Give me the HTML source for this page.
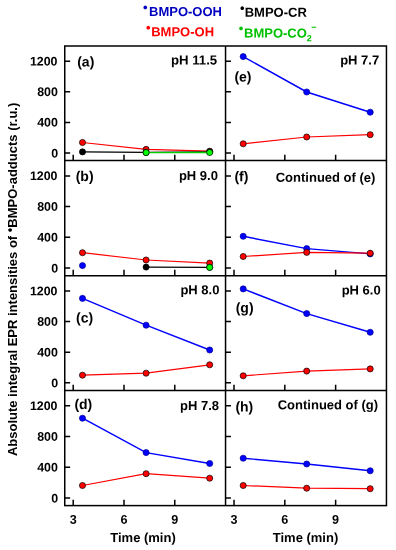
<!DOCTYPE html>
<html><head><meta charset="utf-8"><title>BMPO adducts</title>
<style>html,body{margin:0;padding:0;background:#fff}svg{display:block}svg{font-family:"Liberation Sans",Arial,sans-serif;font-weight:bold;font-size:12px;fill:#000}</style>
</head><body>
<svg width="396" height="550" viewBox="0 0 396 550">
<rect width="396" height="550" fill="#fff"/>
<g id="panel-a">
<polyline fill="none" stroke="#ff0000" stroke-width="1.2" points="82.50,142.50 146.10,149.40 209.70,151.20"/>
<circle cx="82.5" cy="142.5" r="3.05" fill="#ff0000" stroke="#000" stroke-width="0.7"/>
<circle cx="146.1" cy="149.4" r="3.05" fill="#ff0000" stroke="#000" stroke-width="0.7"/>
<circle cx="209.7" cy="151.2" r="3.05" fill="#ff0000" stroke="#000" stroke-width="0.7"/>
<polyline fill="none" stroke="#000000" stroke-width="1.3" points="82.50,151.90 146.10,152.40 209.70,151.80"/>
<circle cx="82.5" cy="151.9" r="3.05" fill="#000000" stroke="#000" stroke-width="0.7"/>
<circle cx="146.1" cy="152.4" r="3.05" fill="#000000" stroke="#000" stroke-width="0.7"/>
<circle cx="209.7" cy="151.8" r="3.05" fill="#000000" stroke="#000" stroke-width="0.7"/>
<polyline fill="none" stroke="#00cc00" stroke-width="1.45" points="146.10,152.60 209.70,152.50"/>
<circle cx="146.1" cy="152.6" r="3.05" fill="#00ff00" stroke="#000" stroke-width="0.7"/>
<circle cx="209.7" cy="152.5" r="3.05" fill="#00ff00" stroke="#000" stroke-width="0.7"/>
</g>
<g id="panel-b">
<polyline fill="none" stroke="#ff0000" stroke-width="1.2" points="82.50,252.70 146.10,260.00 209.70,263.10"/>
<circle cx="82.5" cy="252.7" r="3.05" fill="#ff0000" stroke="#000" stroke-width="0.7"/>
<circle cx="146.1" cy="260.0" r="3.05" fill="#ff0000" stroke="#000" stroke-width="0.7"/>
<circle cx="209.7" cy="263.1" r="3.05" fill="#ff0000" stroke="#000" stroke-width="0.7"/>
<circle cx="82.5" cy="265.6" r="3.05" fill="#0000ff" stroke="#000090" stroke-width="0.7"/>
<polyline fill="none" stroke="#000000" stroke-width="1.3" points="146.10,267.10 209.70,267.30"/>
<circle cx="146.1" cy="267.1" r="3.05" fill="#000000" stroke="#000" stroke-width="0.7"/>
<circle cx="209.7" cy="267.3" r="3.05" fill="#000000" stroke="#000" stroke-width="0.7"/>
<circle cx="209.7" cy="267.4" r="3.05" fill="#00ff00" stroke="#000" stroke-width="0.7"/>
</g>
<g id="panel-c">
<polyline fill="none" stroke="#0000ff" stroke-width="1.45" points="82.50,298.40 146.10,325.20 209.70,350.00"/>
<circle cx="82.5" cy="298.4" r="3.05" fill="#0000ff" stroke="#000090" stroke-width="0.7"/>
<circle cx="146.1" cy="325.2" r="3.05" fill="#0000ff" stroke="#000090" stroke-width="0.7"/>
<circle cx="209.7" cy="350.0" r="3.05" fill="#0000ff" stroke="#000090" stroke-width="0.7"/>
<polyline fill="none" stroke="#ff0000" stroke-width="1.2" points="82.50,375.20 146.10,373.20 209.70,364.80"/>
<circle cx="82.5" cy="375.2" r="3.05" fill="#ff0000" stroke="#000" stroke-width="0.7"/>
<circle cx="146.1" cy="373.2" r="3.05" fill="#ff0000" stroke="#000" stroke-width="0.7"/>
<circle cx="209.7" cy="364.8" r="3.05" fill="#ff0000" stroke="#000" stroke-width="0.7"/>
</g>
<g id="panel-d">
<polyline fill="none" stroke="#0000ff" stroke-width="1.45" points="82.50,418.20 146.10,452.60 209.70,463.50"/>
<circle cx="82.5" cy="418.2" r="3.05" fill="#0000ff" stroke="#000090" stroke-width="0.7"/>
<circle cx="146.1" cy="452.6" r="3.05" fill="#0000ff" stroke="#000090" stroke-width="0.7"/>
<circle cx="209.7" cy="463.5" r="3.05" fill="#0000ff" stroke="#000090" stroke-width="0.7"/>
<polyline fill="none" stroke="#ff0000" stroke-width="1.2" points="82.50,485.50 146.10,473.70 209.70,478.20"/>
<circle cx="82.5" cy="485.5" r="3.05" fill="#ff0000" stroke="#000" stroke-width="0.7"/>
<circle cx="146.1" cy="473.7" r="3.05" fill="#ff0000" stroke="#000" stroke-width="0.7"/>
<circle cx="209.7" cy="478.2" r="3.05" fill="#ff0000" stroke="#000" stroke-width="0.7"/>
</g>
<g id="panel-e">
<polyline fill="none" stroke="#0000ff" stroke-width="1.45" points="243.20,56.60 306.70,92.00 370.20,112.20"/>
<circle cx="243.2" cy="56.6" r="3.05" fill="#0000ff" stroke="#000090" stroke-width="0.7"/>
<circle cx="306.7" cy="92.0" r="3.05" fill="#0000ff" stroke="#000090" stroke-width="0.7"/>
<circle cx="370.2" cy="112.2" r="3.05" fill="#0000ff" stroke="#000090" stroke-width="0.7"/>
<polyline fill="none" stroke="#ff0000" stroke-width="1.2" points="243.20,143.80 306.70,137.00 370.20,134.70"/>
<circle cx="243.2" cy="143.8" r="3.05" fill="#ff0000" stroke="#000" stroke-width="0.7"/>
<circle cx="306.7" cy="137.0" r="3.05" fill="#ff0000" stroke="#000" stroke-width="0.7"/>
<circle cx="370.2" cy="134.7" r="3.05" fill="#ff0000" stroke="#000" stroke-width="0.7"/>
</g>
<g id="panel-f">
<polyline fill="none" stroke="#0000ff" stroke-width="1.45" points="243.20,236.30 306.70,248.60 370.20,253.90"/>
<circle cx="243.2" cy="236.3" r="3.05" fill="#0000ff" stroke="#000090" stroke-width="0.7"/>
<circle cx="306.7" cy="248.6" r="3.05" fill="#0000ff" stroke="#000090" stroke-width="0.7"/>
<circle cx="370.2" cy="253.9" r="3.05" fill="#0000ff" stroke="#000090" stroke-width="0.7"/>
<polyline fill="none" stroke="#ff0000" stroke-width="1.2" points="243.20,256.50 306.70,252.40 370.20,253.20"/>
<circle cx="243.2" cy="256.5" r="3.05" fill="#ff0000" stroke="#000" stroke-width="0.7"/>
<circle cx="306.7" cy="252.4" r="3.05" fill="#ff0000" stroke="#000" stroke-width="0.7"/>
<circle cx="370.2" cy="253.2" r="3.05" fill="#ff0000" stroke="#000" stroke-width="0.7"/>
</g>
<g id="panel-g">
<polyline fill="none" stroke="#0000ff" stroke-width="1.45" points="243.20,288.90 306.70,313.60 370.20,332.30"/>
<circle cx="243.2" cy="288.9" r="3.05" fill="#0000ff" stroke="#000090" stroke-width="0.7"/>
<circle cx="306.7" cy="313.6" r="3.05" fill="#0000ff" stroke="#000090" stroke-width="0.7"/>
<circle cx="370.2" cy="332.3" r="3.05" fill="#0000ff" stroke="#000090" stroke-width="0.7"/>
<polyline fill="none" stroke="#ff0000" stroke-width="1.2" points="243.20,375.80 306.70,371.10 370.20,368.90"/>
<circle cx="243.2" cy="375.8" r="3.05" fill="#ff0000" stroke="#000" stroke-width="0.7"/>
<circle cx="306.7" cy="371.1" r="3.05" fill="#ff0000" stroke="#000" stroke-width="0.7"/>
<circle cx="370.2" cy="368.9" r="3.05" fill="#ff0000" stroke="#000" stroke-width="0.7"/>
</g>
<g id="panel-h">
<polyline fill="none" stroke="#0000ff" stroke-width="1.45" points="243.20,458.20 306.70,464.00 370.20,470.80"/>
<circle cx="243.2" cy="458.2" r="3.05" fill="#0000ff" stroke="#000090" stroke-width="0.7"/>
<circle cx="306.7" cy="464.0" r="3.05" fill="#0000ff" stroke="#000090" stroke-width="0.7"/>
<circle cx="370.2" cy="470.8" r="3.05" fill="#0000ff" stroke="#000090" stroke-width="0.7"/>
<polyline fill="none" stroke="#ff0000" stroke-width="1.2" points="243.20,485.50 306.70,488.20 370.20,488.70"/>
<circle cx="243.2" cy="485.5" r="3.05" fill="#ff0000" stroke="#000" stroke-width="0.7"/>
<circle cx="306.7" cy="488.2" r="3.05" fill="#ff0000" stroke="#000" stroke-width="0.7"/>
<circle cx="370.2" cy="488.7" r="3.05" fill="#ff0000" stroke="#000" stroke-width="0.7"/>
</g>
<g fill="none" stroke="#000" stroke-width="1.5" stroke-linecap="butt">
<rect x="64.75" y="46.00" width="321.70" height="459.60"/>
<line x1="225.55" y1="46.00" x2="225.55" y2="505.60"/>
<line x1="64.75" y1="160.60" x2="386.45" y2="160.60"/>
<line x1="64.75" y1="275.65" x2="386.45" y2="275.65"/>
<line x1="64.75" y1="390.50" x2="386.45" y2="390.50"/>
<path d="M64.75 152.96h5.4M64.75 122.40h5.4M64.75 91.84h5.4M64.75 61.28h5.4M73.21 160.60v-5.8M123.99 160.60v-5.8M174.77 160.60v-5.8M225.55 152.96h5.4M225.55 122.40h5.4M225.55 91.84h5.4M225.55 61.28h5.4M234.02 160.60v-5.8M284.83 160.60v-5.8M335.64 160.60v-5.8M64.75 267.98h5.4M64.75 237.30h5.4M64.75 206.62h5.4M64.75 175.94h5.4M73.21 275.65v-5.8M123.99 275.65v-5.8M174.77 275.65v-5.8M225.55 267.98h5.4M225.55 237.30h5.4M225.55 206.62h5.4M225.55 175.94h5.4M234.02 275.65v-5.8M284.83 275.65v-5.8M335.64 275.65v-5.8M64.75 382.84h5.4M64.75 352.22h5.4M64.75 321.59h5.4M64.75 290.96h5.4M73.21 390.50v-5.8M123.99 390.50v-5.8M174.77 390.50v-5.8M225.55 382.84h5.4M225.55 352.22h5.4M225.55 321.59h5.4M225.55 290.96h5.4M234.02 390.50v-5.8M284.83 390.50v-5.8M335.64 390.50v-5.8M64.75 497.93h5.4M64.75 467.23h5.4M64.75 436.54h5.4M64.75 405.85h5.4M73.21 505.60v-5.8M123.99 505.60v-5.8M174.77 505.60v-5.8M225.55 497.93h5.4M225.55 467.23h5.4M225.55 436.54h5.4M225.55 405.85h5.4M234.02 505.60v-5.8M284.83 505.60v-5.8M335.64 505.60v-5.8"/>
</g>
<text x="58.1" y="157.5" text-anchor="end" font-size="12.4" transform="rotate(0.03 58.1 157.5)">0</text>
<text x="57.9" y="126.6" text-anchor="end" font-size="12.4" transform="rotate(0.03 57.9 126.6)">400</text>
<text x="57.9" y="96.0" text-anchor="end" font-size="12.4" transform="rotate(0.03 57.9 96.0)">800</text>
<text x="57.5" y="65.5" text-anchor="end" font-size="12.4" transform="rotate(0.03 57.5 65.5)">1200</text>
<text x="58.1" y="272.5" text-anchor="end" font-size="12.4" transform="rotate(0.03 58.1 272.5)">0</text>
<text x="57.9" y="241.5" text-anchor="end" font-size="12.4" transform="rotate(0.03 57.9 241.5)">400</text>
<text x="57.9" y="210.8" text-anchor="end" font-size="12.4" transform="rotate(0.03 57.9 210.8)">800</text>
<text x="57.5" y="180.1" text-anchor="end" font-size="12.4" transform="rotate(0.03 57.5 180.1)">1200</text>
<text x="58.1" y="387.3" text-anchor="end" font-size="12.4" transform="rotate(0.03 58.1 387.3)">0</text>
<text x="57.9" y="356.4" text-anchor="end" font-size="12.4" transform="rotate(0.03 57.9 356.4)">400</text>
<text x="57.9" y="325.8" text-anchor="end" font-size="12.4" transform="rotate(0.03 57.9 325.8)">800</text>
<text x="57.5" y="295.2" text-anchor="end" font-size="12.4" transform="rotate(0.03 57.5 295.2)">1200</text>
<text x="58.1" y="502.4" text-anchor="end" font-size="12.4" transform="rotate(0.03 58.1 502.4)">0</text>
<text x="57.9" y="471.4" text-anchor="end" font-size="12.4" transform="rotate(0.03 57.9 471.4)">400</text>
<text x="57.9" y="440.7" text-anchor="end" font-size="12.4" transform="rotate(0.03 57.9 440.7)">800</text>
<text x="57.5" y="410.0" text-anchor="end" font-size="12.4" transform="rotate(0.03 57.5 410.0)">1200</text>
<text x="73.2" y="523.7" text-anchor="middle" font-size="12.6" transform="rotate(0.03 73.2 523.7)">3</text>
<text x="124.0" y="523.7" text-anchor="middle" font-size="12.6" transform="rotate(0.03 124.0 523.7)">6</text>
<text x="174.8" y="523.7" text-anchor="middle" font-size="12.6" transform="rotate(0.03 174.8 523.7)">9</text>
<text x="234.0" y="523.7" text-anchor="middle" font-size="12.6" transform="rotate(0.03 234.0 523.7)">3</text>
<text x="284.8" y="523.7" text-anchor="middle" font-size="12.6" transform="rotate(0.03 284.8 523.7)">6</text>
<text x="335.6" y="523.7" text-anchor="middle" font-size="12.6" transform="rotate(0.03 335.6 523.7)">9</text>
<text x="143.0" y="542.1" text-anchor="middle" font-size="13" transform="rotate(0.03 143.0 542.1)">Time (min)</text>
<text x="305.5" y="542.1" text-anchor="middle" font-size="13" transform="rotate(0.03 305.5 542.1)">Time (min)</text>
<text x="77.2" y="66.6" font-size="14" transform="rotate(0.03 77.2 66.6)">(a)</text>
<text x="217.2" y="64.6" text-anchor="end" font-size="13.2" transform="rotate(0.03 217.2 64.6)">pH 11.5</text>
<text x="75.7" y="181.1" font-size="14" transform="rotate(0.03 75.7 181.1)">(b)</text>
<text x="217.9" y="180.0" text-anchor="end" font-size="13" transform="rotate(0.03 217.9 180.0)">pH 9.0</text>
<text x="76.1" y="322.5" font-size="14" transform="rotate(0.03 76.1 322.5)">(c)</text>
<text x="219.4" y="294.3" text-anchor="end" font-size="13" transform="rotate(0.03 219.4 294.3)">pH 8.0</text>
<text x="74.4" y="408.9" font-size="14" transform="rotate(0.03 74.4 408.9)">(d)</text>
<text x="219.0" y="410.0" text-anchor="end" font-size="13" transform="rotate(0.03 219.0 410.0)">pH 7.8</text>
<text x="234.4" y="81.5" font-size="14" transform="rotate(0.03 234.4 81.5)">(e)</text>
<text x="379.2" y="64.6" text-anchor="end" font-size="13" transform="rotate(0.03 379.2 64.6)">pH 7.7</text>
<text x="234.4" y="181.2" font-size="14" transform="rotate(0.03 234.4 181.2)">(f)</text>
<text x="375.4" y="181.9" text-anchor="end" font-size="13" transform="rotate(0.03 375.4 181.9)">Continued of (e)</text>
<text x="235.7" y="312.4" font-size="14" transform="rotate(0.03 235.7 312.4)">(g)</text>
<text x="380.7" y="294.6" text-anchor="end" font-size="13" transform="rotate(0.03 380.7 294.6)">pH 6.0</text>
<text x="235.4" y="411.5" font-size="14" transform="rotate(0.03 235.4 411.5)">(h)</text>
<text x="378.1" y="409.3" text-anchor="end" font-size="13" transform="rotate(0.03 378.1 409.3)">Continued of (g)</text>
<text transform="translate(17.4 279.4) rotate(-90)" text-anchor="middle" font-size="13">Absolute integral EPR intensities of <tspan dy="-3.6">•</tspan><tspan dy="3.6">BMPO-adducts (r.u.)</tspan></text>
<text font-size="13" style="fill:#0000c0" transform="rotate(0.03 149.0 16.0)"><tspan x="143.1" y="11.85">•</tspan><tspan x="149.0" y="16.0">BMPO-OOH</tspan></text>
<text font-size="13" style="fill:#ff0000" transform="rotate(0.03 151.2 36.2)"><tspan x="145.9" y="32.05">•</tspan><tspan x="151.2" y="36.2">BMPO-OH</tspan></text>
<text font-size="13" style="fill:#000000" transform="rotate(0.03 244.7 16.7)"><tspan x="239.9" y="12.55">•</tspan><tspan x="244.7" y="16.7">BMPO-CR</tspan></text>
<text font-size="13" style="fill:#00c000" transform="rotate(0.03 244.0 37.4)"><tspan x="238.7" y="32.85">•</tspan><tspan x="244.0" y="37.4">BMPO-CO</tspan><tspan x="306.7" y="41.2" font-size="9">2</tspan><tspan x="311.3" y="30.3" font-size="9">−</tspan></text>
</svg>
</body></html>
